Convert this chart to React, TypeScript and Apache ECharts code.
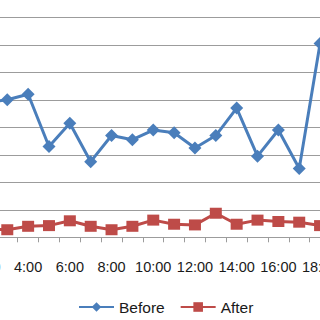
import React, { useEffect, useRef } from "react";
import * as echarts from "echarts";

// Hourly readings, 2:00 through 18:00
const hours = [
  "2:00", "3:00", "4:00", "5:00", "6:00", "7:00", "8:00", "9:00", "10:00",
  "11:00", "12:00", "13:00", "14:00", "15:00", "16:00", "17:00", "18:00",
];

const beforeValues = [
  98, 100, 104, 66, 83, 55, 74, 71, 78, 76, 65, 74, 94, 59, 78, 50, 141,
];

const afterValues = [
  6, 5.5, 8, 8.5, 12, 8, 5.5, 8, 12.5, 9.5, 9, 17.5, 9.5, 12.5, 11.5, 11, 8.5,
];

const BLUE = "#4A7EBB";
const RED = "#BE4B48";
const GRID_GREY = "#9c9c9c";
const FONT = "'Liberation Sans', Arial, sans-serif";

// The plot runs past both sides of the 320px frame; the canvas is wider
// and shifted left so only the middle stretch of hours shows.
const SHIFT = 40;
const CANVAS_W = 400;

export default function App() {
  const ref = useRef<HTMLDivElement>(null);

  useEffect(() => {
    if (!ref.current) return;
    const chart = echarts.init(ref.current, undefined, { renderer: "svg" });
    chart.setOption({
      animation: false,
      backgroundColor: "#ffffff",
      grid: {
        left: 16,
        right: 29.5,
        top: 17.3,
        bottom: 82.7,
        containLabel: false,
      },
      legend: {
        left: 73 + SHIFT,
        top: 294,
        itemWidth: 35,
        itemHeight: 12,
        itemGap: 15,
        textStyle: { fontFamily: FONT, fontSize: 15.5, color: "#1a1a1a" },
        data: ["Before", "After"],
      },
      xAxis: {
        type: "category",
        data: hours,
        boundaryGap: true,
        axisLine: { show: true, lineStyle: { color: GRID_GREY, width: 1.2 } },
        axisTick: {
          show: true,
          interval: 0,
          length: 5,
          lineStyle: { color: GRID_GREY, width: 1 },
        },
        axisLabel: {
          interval: 1,
          margin: 22,
          fontFamily: FONT,
          fontSize: 14.5,
          color: "#1a1a1a",
        },
        splitLine: { show: false },
      },
      yAxis: {
        type: "value",
        min: 0,
        max: 160,
        interval: 20,
        axisLine: { show: false },
        axisTick: { show: false },
        axisLabel: { show: false },
        splitLine: { show: true, lineStyle: { color: GRID_GREY, width: 1.2 } },
      },
      series: [
        {
          name: "Before",
          type: "line",
          data: beforeValues,
          symbol: "diamond",
          symbolSize: 13,
          showAllSymbol: true,
          lineStyle: { color: BLUE, width: 3 },
          itemStyle: { color: BLUE },
        },
        {
          name: "After",
          type: "line",
          data: afterValues,
          symbol: "rect",
          symbolSize: [12, 11],
          showAllSymbol: true,
          lineStyle: { color: RED, width: 3 },
          itemStyle: { color: RED },
        },
      ],
    });
    return () => chart.dispose();
  }, []);

  return (
    <div
      style={{
        position: "fixed",
        left: 0,
        top: 0,
        width: 320,
        height: 320,
        overflow: "hidden",
        background: "#ffffff",
      }}
    >
      <div
        ref={ref}
        style={{
          position: "absolute",
          left: -SHIFT,
          top: 0,
          width: CANVAS_W,
          height: 320,
        }}
      />
    </div>
  );
}
